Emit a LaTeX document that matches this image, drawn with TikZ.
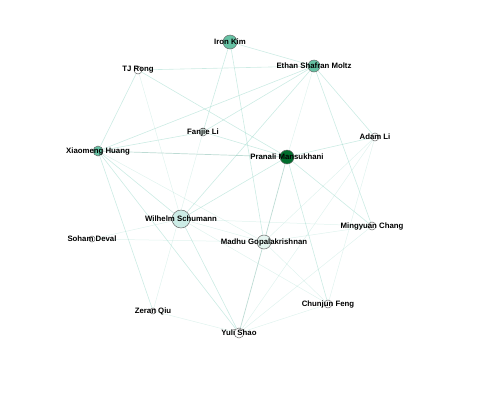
\documentclass[tikz,border=0pt]{standalone}
\usepackage{fontspec}
\setmainfont{Liberation Sans}
\usetikzlibrary{backgrounds}
\definecolor{edgeTeal}  {HTML}{99D8C9}
\definecolor{nodeDark}  {HTML}{006D2C}
\definecolor{nodeMid}   {HTML}{66C2A4}
\definecolor{nodeLight} {HTML}{CCECE6}
\definecolor{nodePale}  {HTML}{E5F5F0}
\definecolor{rimGray}   {HTML}{6A6A6A}
\tikzset{
  person/.style={circle,draw=rimGray,line width=0.5pt,inner sep=0pt,fill=white},
  plabel/.style={font=\bfseries\fontsize{7.8}{8}\selectfont,text=black,inner sep=0pt},
  link/.style={draw=edgeTeal,line width=0.6pt,opacity=0.5},
  faintlink/.style={draw=edgeTeal,line width=0.5pt,opacity=0.3},
  stronglink/.style={draw=edgeTeal!88!black,line width=0.7pt,opacity=0.55},
}

\begin{document}
\begin{tikzpicture}[x=1pt,y=-1pt]
\useasboundingbox (0,0) rectangle (487,400);

% people
\node[person,fill=nodeMid,minimum size=14pt]   (iron)    at (230,42)  {};
\node[person,fill=nodeMid,minimum size=12pt]   (ethan)   at (314,66)  {};
\node[person,minimum size=8pt]                 (tj)      at (138,70)  {};
\node[person,fill=nodePale,minimum size=8pt]   (fanjie)  at (203,132) {};
\node[person,minimum size=8pt]                 (adam)    at (375,137) {};
\node[person,fill=nodeMid,minimum size=10pt]   (xiao)    at (98,151)  {};
\node[person,fill=nodeDark,minimum size=14pt]  (pranali) at (287,157) {};
\node[person,fill=nodeLight,minimum size=18pt] (wilhelm) at (181,219) {};
\node[person,minimum size=6pt]                 (soham)   at (92,239)  {};
\node[person,minimum size=8pt]                 (ming)    at (372,226) {};
\node[person,fill=nodePale,minimum size=14pt]  (madhu)   at (264,242) {};
\node[person,minimum size=8pt]                 (chunjun) at (328,304) {};
\node[person,minimum size=6pt]                 (zeran)   at (153,311) {};
\node[person,minimum size=10pt]                (yuli)    at (239,333) {};

% names on top
\node[plabel] (ironName)    at (iron)    {Iron Kim};
\node[plabel] (ethanName)   at (ethan)   {Ethan Shafran Moltz};
\node[plabel] (tjName)      at (tj)      {TJ Rong};
\node[plabel] (fanjieName)  at (fanjie)  {Fanjie Li};
\node[plabel] (adamName)    at (adam)    {Adam Li};
\node[plabel] (xiaoName)    at (xiao)    {Xiaomeng Huang};
\node[plabel] (pranaliName) at (pranali) {Pranali Mansukhani};
\node[plabel] (wilhelmName) at (wilhelm) {Wilhelm Schumann};
\node[plabel] (sohamName)   at (soham)   {Soham Deval};
\node[plabel] (mingName)    at (ming)    {Mingyuan Chang};
\node[plabel] (madhuName)   at (madhu)   {Madhu Gopalakrishnan};
\node[plabel] (chunjunName) at (chunjun) {Chunjun Feng};
\node[plabel] (zeranName)   at (zeran)   {Zeran Qiu};
\node[plabel] (yuliName)    at (yuli)    {Yuli Shao};

\begin{pgfonlayer}{background}
\draw[link] (iron) -- (ethan);
\draw[link] (iron) -- (fanjie);
\draw[link] (iron) -- (madhu);
\draw[link] (tj) -- (ethan);
\draw[link] (tj) -- (xiao);
\draw[link] (tj) -- (pranali);
\draw[faintlink] (tj) -- (wilhelm);
\draw[link] (ethan) -- (xiao);
\draw[link] (ethan) -- (fanjie);
\draw[link] (ethan) -- (wilhelm);
\draw[link] (ethan) -- (adam);
\draw[link] (ethan) -- (ming);
\draw[faintlink] (ethan) -- (pranali);
\draw[link] (xiao) -- (fanjie);
\draw[stronglink] (xiao) -- (pranali);
\draw[link] (xiao) -- (wilhelm);
\draw[link] (xiao) -- (zeran);
\draw[link] (xiao) -- (yuli);
\draw[faintlink] (xiao) -- (madhu);
\draw[link] (fanjie) -- (pranali);
\draw[faintlink] (fanjie) -- (zeran);
\draw[link] (pranali) -- (wilhelm);
\draw[link] (pranali) -- (adam);
\draw[link] (pranali) -- (ming);
\draw[stronglink] (pranali) -- (madhu);
\draw[link] (pranali) -- (chunjun);
\draw[link] (wilhelm) -- (yuli);
\draw[faintlink] (wilhelm) -- (madhu);
\draw[faintlink] (wilhelm) -- (ming);
\draw[faintlink] (wilhelm) -- (chunjun);
\draw[faintlink] (soham) -- (madhu);
\draw[faintlink] (soham) -- (wilhelm);
\draw[stronglink] (madhu) -- (yuli);
\draw[faintlink] (madhu) -- (chunjun);
\draw[faintlink] (madhu) -- (ming);
\draw[faintlink] (adam) -- (madhu);
\draw[faintlink] (adam) -- (chunjun);
\draw[faintlink] (adam) -- (yuli);
\draw[faintlink] (ming) -- (yuli);
\draw[faintlink] (chunjun) -- (yuli);
\draw[faintlink] (zeran) -- (yuli);
\end{pgfonlayer}

\end{tikzpicture}
\end{document}
